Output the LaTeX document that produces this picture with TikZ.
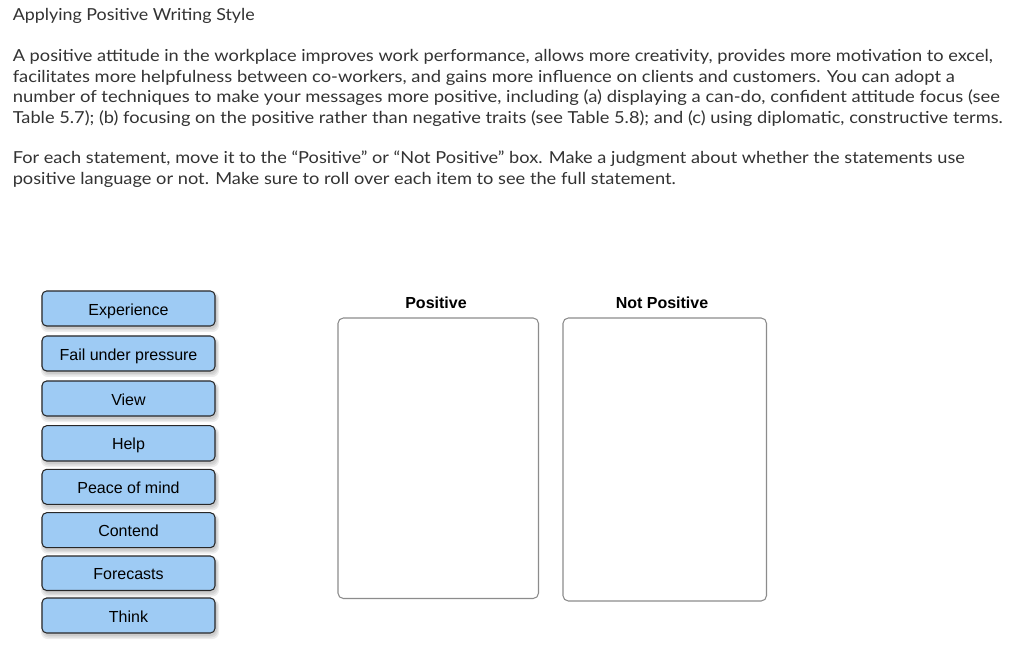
\documentclass[tikz,border=0pt]{standalone}
\usepackage{fontspec}
\setmainfont{Lato}
\newfontfamily\btnfont{Liberation Sans}
\usetikzlibrary{positioning}
\definecolor{bodytext}{RGB}{51,51,51}
\definecolor{btnfill}{RGB}{158,203,244}
\definecolor{btnedge}{RGB}{40,40,40}
\definecolor{boxedge}{RGB}{140,140,140}
\newlength\pxu
\setlength\pxu{0.75pt}
\newcommand\fitline[2]{\resizebox{#1\pxu}{\height}{#2}}
\tikzset{
  bodyline/.style={anchor=base west, inner sep=0pt, text=bodytext, font=\fontsize{12.4}{14}\selectfont},
  dragbtn/.style={draw=btnedge, line width=0.8pt, fill=btnfill, rounded corners=3.5pt,
    minimum width=173\pxu, minimum height=35\pxu, inner sep=0pt, text height=8.6pt, text depth=0pt,
    font=\btnfont\fontsize{12}{14}\selectfont, text=black},
  btnshadow/.style={fill=black, fill opacity=0.07, rounded corners=5pt},
  dropbox/.style={draw=boxedge, line width=0.8pt, fill=white, rounded corners=4pt},
  boxhead/.style={font=\btnfont\bfseries\fontsize{12}{14}\selectfont, text=black, inner sep=0pt, anchor=base},
}
\begin{document}
\begin{tikzpicture}[x=0.75pt, y=-0.75pt]
\useasboundingbox[fill=white] (0,0) rectangle (1024,666);

% text
\node[bodyline] (title) at (12.5,21) {\fitline{242}{Applying Positive Writing Style}};
\node[bodyline] (p1) at (12.5,62) {\fitline{980}{A positive attitude in the workplace improves work performance, allows more creativity, provides more motivation to excel,}};
\node[bodyline] (p2) at (12.5,82.5) {\fitline{942}{facilitates more helpfulness between co-workers, and gains more influence on clients and customers. You can adopt a}};
\node[bodyline] (p3) at (12.5,103) {\fitline{987}{number of techniques to make your messages more positive, including (a) displaying a can-do, confident attitude focus (see}};
\node[bodyline] (p4) at (12.5,123.5) {\fitline{990}{Table 5.7); (b) focusing on the positive rather than negative traits (see Table 5.8); and (c) using diplomatic, constructive terms.}};
\node[bodyline] (q1) at (12.5,163.7) {\fitline{952}{For each statement, move it to the “Positive” or “Not Positive” box. Make a judgment about whether the statements use}};
\node[bodyline] (q2) at (12.5,184.2) {\fitline{663}{positive language or not. Make sure to roll over each item to see the full statement.}};

% buttons with shadows
\foreach \yt/\yb/\name/\lbl in {291/326/b1/Experience, 336/371/b2/Fail under pressure, 381/416/b3/View, 425.7/461/b4/Help, 469.3/504.3/b5/Peace of mind, 512.7/547.7/b6/Contend, 556/590.5/b7/Forecasts, 598/633/b8/Think}{
  \fill[btnshadow] (41,\yt+1) rectangle (219,\yb+6);
  \fill[btnshadow] (42,\yt+2) rectangle (218,\yb+4.5);
  \fill[btnshadow] (43,\yt+3) rectangle (217,\yb+3);
  \node[dragbtn, minimum height={(\yb-\yt)*0.75pt}] (\name) at (128.5,{(\yt+\yb)/2}) {};
  \node[inner sep=0pt, text height=8.6pt, text depth=0pt, font=\btnfont\fontsize{12}{14}\selectfont, text=black] (\name t) at (128.5,{(\yt+\yb)/2+0.8}) {\lbl};
}

% drop boxes
\draw[dropbox] (338,318) rectangle (538.5,598.5);
\draw[dropbox] (563,318) rectangle (766.5,601);
\node[boxhead] (hpos) at (436,308.5) {Positive};
\node[boxhead] (hneg) at (662,308.5) {Not Positive};
\end{tikzpicture}
\end{document}
